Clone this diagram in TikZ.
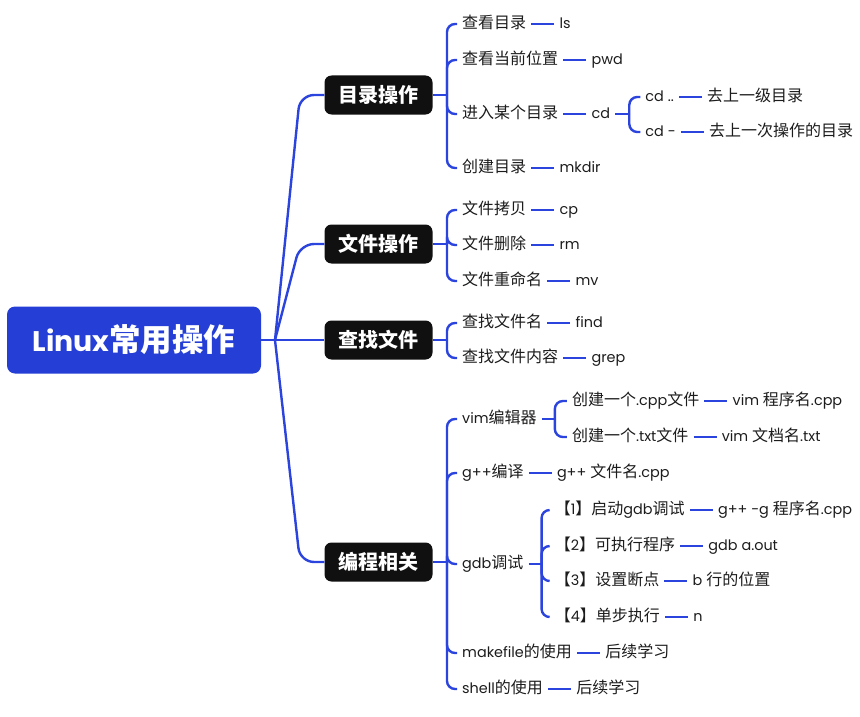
\documentclass[tikz,border=0pt]{standalone}
\usepackage{fontspec}
\setmainfont{Poppins}[Scale=0.9]
\newfontfamily\cjk{Noto Sans CJK SC}
\XeTeXinterchartokenstate=1
\newXeTeXintercharclass\cjkcls
\newcount\cjkcc
\def\setcjkrange#1#2{\cjkcc=#1\relax\loop\XeTeXcharclass\cjkcc=\cjkcls\relax\ifnum\cjkcc<#2\advance\cjkcc by 1\repeat}
\setcjkrange{"4E00}{"9FFF}
\setcjkrange{"3000}{"303F}
\setcjkrange{"FF00}{"FFEF}
\XeTeXinterchartoks 0 \cjkcls = {\begingroup\cjk}
\XeTeXinterchartoks 4095 \cjkcls = {\begingroup\cjk}
\XeTeXinterchartoks \cjkcls 0 = {\endgroup}
\XeTeXinterchartoks \cjkcls 4095 = {\endgroup}
\usetikzlibrary{positioning}
\definecolor{lc}{RGB}{44,68,222}
\definecolor{rootc}{RGB}{36,62,214}
\definecolor{boxc}{RGB}{16,16,16}
\definecolor{tc}{RGB}{28,28,28}
\begin{document}
\begin{tikzpicture}[x=1pt,y=-1pt,
 ln/.style={draw=lc,line width=2.4pt},
 br/.style={draw=lc,line width=2.4pt,rounded corners=8pt},
 trunk/.style={draw=lc,line width=2.4pt,rounded corners=14pt},
 rootbox/.style={fill=rootc,text=white,rounded corners=8pt,minimum width=254pt,minimum height=67pt,inner sep=0pt,font=\fontsize{31.5}{36}\selectfont\bfseries},
 topic/.style={fill=boxc,text=white,rounded corners=7pt,minimum width=108pt,minimum height=39pt,inner sep=0pt,font=\fontsize{20}{24}\selectfont\bfseries},
 item/.style={anchor=west,inner xsep=5pt,inner ysep=0pt,text height=12pt,text depth=3pt,text=tc,font=\fontsize{16}{19}\selectfont},
 leaf/.style={item,right=23pt of #1},
]
\useasboundingbox (0,0) rectangle (860,717);
% root and topics
\node[rootbox] (root) at (134,340) {Linux常用操作};
\node[topic] (t1) at (378.5,95) {目录操作};
\node[topic] (t2) at (378.5,244) {文件操作};
\node[topic] (t3) at (378.5,340) {查找文件};
\node[topic] (t4) at (378.5,562) {编程相关};
\coordinate (J) at (275,340);
\draw[ln] (root.east) -- (t3.west);
\draw[trunk] (J) -- (300,95) -- (t1.west);
\draw[trunk] (J) -- (300,244) -- (t2.west);
\draw[trunk] (J) -- (300,562) -- (t4.west);

% ---- 目录操作
\coordinate (b1) at (447,95);
\draw[ln] (t1.east) -- (b1);
\node[item] (a1) at (457,24) {查看目录};
\node[item] (a2) at (457,60) {查看当前位置};
\node[item] (a3) at (457,114) {进入某个目录};
\node[item] (a4) at (457,168) {创建目录};
\foreach \n in {a1,a2,a3,a4} \draw[br] (b1) |- (\n.west);
\node[leaf=a1] (a1l) {ls};
\node[leaf=a2] (a2l) {pwd};
\node[leaf=a3] (cd) {cd};
\node[leaf=a4] (a4l) {mkdir};
\draw[ln] (a1.east) -- (a1l.west);
\draw[ln] (a2.east) -- (a2l.west);
\draw[ln] (a3.east) -- (cd.west);
\draw[ln] (a4.east) -- (a4l.west);
\path (cd.east) ++(14,0) coordinate (cdb) ++(11,0) coordinate (cdc);
\draw[ln] (cd.east) -- (cdb);
\node[item] (cd1) at ([yshift=17pt]cdc) {cd ..};
\node[item] (cd2) at ([yshift=-18pt]cdc) {cd -};
\draw[br] (cdb) |- (cd1.west);
\draw[br] (cdb) |- (cd2.west);
\node[leaf=cd1] (cd1l) {去上一级目录};
\node[leaf=cd2] (cd2l) {去上一次操作的目录};
\draw[ln] (cd1.east) -- (cd1l.west);
\draw[ln] (cd2.east) -- (cd2l.west);

% ---- 文件操作
\coordinate (b2) at (447,244);
\draw[ln] (t2.east) -- (b2);
\node[item] (f1) at (457,210) {文件拷贝};
\node[item] (f2) at (457,245) {文件删除};
\node[item] (f3) at (457,281) {文件重命名};
\foreach \n in {f1,f2,f3} \draw[br] (b2) |- (\n.west);
\node[leaf=f1] (f1l) {cp};
\node[leaf=f2] (f2l) {rm};
\node[leaf=f3] (f3l) {mv};
\draw[ln] (f1.east) -- (f1l.west);
\draw[ln] (f2.east) -- (f2l.west);
\draw[ln] (f3.east) -- (f3l.west);

% ---- 查找文件
\coordinate (b3) at (447,340);
\draw[ln] (t3.east) -- (b3);
\node[item] (s1) at (457,323) {查找文件名};
\node[item] (s2) at (457,358) {查找文件内容};
\foreach \n in {s1,s2} \draw[br] (b3) |- (\n.west);
\node[leaf=s1] (s1l) {find};
\node[leaf=s2] (s2l) {grep};
\draw[ln] (s1.east) -- (s1l.west);
\draw[ln] (s2.east) -- (s2l.west);

% ---- 编程相关
\coordinate (b4) at (447,562);
\draw[ln] (t4.east) -- (b4);
\node[item] (p1) at (457,419) {vim编辑器};
\node[item] (p2) at (457,473) {g++编译};
\node[item] (p3) at (457,564) {gdb调试};
\node[item] (p4) at (457,653) {makefile的使用};
\node[item] (p5) at (457,689) {shell的使用};
\foreach \n in {p1,p2,p3,p4,p5} \draw[br] (b4) |- (\n.west);
% vim
\path (p1.east) ++(13,0) coordinate (vb) ++(12,0) coordinate (vc);
\draw[ln] (p1.east) -- (vb);
\node[item] (v1) at ([yshift=18pt]vc) {创建一个.cpp文件};
\node[item] (v2) at ([yshift=-18pt]vc) {创建一个.txt文件};
\draw[br] (vb) |- (v1.west);
\draw[br] (vb) |- (v2.west);
\node[leaf=v1] (v1l) {vim 程序名.cpp};
\node[leaf=v2] (v2l) {vim 文档名.txt};
\draw[ln] (v1.east) -- (v1l.west);
\draw[ln] (v2.east) -- (v2l.west);
% g++
\node[leaf=p2] (p2l) {g++ 文件名.cpp};
\draw[ln] (p2.east) -- (p2l.west);
% gdb
\path (p3.east) ++(13,0) coordinate (gb) ++(8,0) coordinate (gc);
\draw[ln] (p3.east) -- (gb);
\node[item] (g1) at ([yshift=54pt]gc) {【1】启动gdb调试};
\node[item] (g2) at ([yshift=18pt]gc) {【2】可执行程序};
\node[item] (g3) at ([yshift=-17pt]gc) {【3】设置断点};
\node[item] (g4) at ([yshift=-53pt]gc) {【4】单步执行};
\foreach \n in {g1,g2,g3,g4} \draw[br] (gb) |- (\n.west);
\node[leaf=g1] (g1l) {g++ -g 程序名.cpp};
\node[leaf=g2] (g2l) {gdb a.out};
\node[leaf=g3] (g3l) {b 行的位置};
\node[leaf=g4] (g4l) {n};
\foreach \n in {g1,g2,g3,g4} \draw[ln] (\n.east) -- (\n l.west);
% makefile, shell
\node[leaf=p4] (p4l) {后续学习};
\node[leaf=p5] (p5l) {后续学习};
\draw[ln] (p4.east) -- (p4l.west);
\draw[ln] (p5.east) -- (p5l.west);
\end{tikzpicture}
\end{document}
